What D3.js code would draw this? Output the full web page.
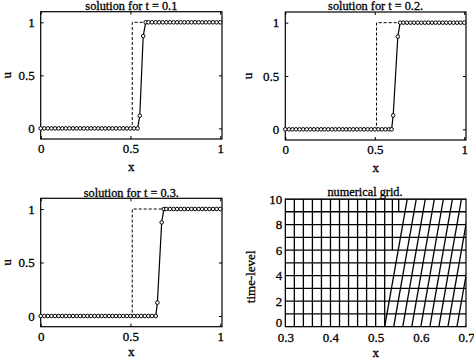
<!DOCTYPE html>
<html><head><meta charset="utf-8">
<script src="https://cdn.jsdelivr.net/npm/d3@7"></script>
<style>
html,body{margin:0;padding:0;background:#fff;}
svg{display:block;font-family:"Liberation Serif","DejaVu Serif",serif;}
text{stroke:#000;stroke-width:0.3px;fill:#000;}
</style></head>
<body><svg id="c" width="474" height="360"></svg>
<script>
// ---------- data ----------
const titles = ["solution for t = 0.1", "solution for t = 0.2.", "solution for t = 0.3.", "numerical grid."];
const uTicks = [0, 0.5, 1];
const xTicks = [0, 0.5, 1];
const initX = [0, 0.51, 0.51, 1];
const initU = [0, 0, 1, 1];

const x1 = [0,0.02,0.04,0.06,0.08,0.1,0.12,0.14,0.16,0.18,0.2,0.22,0.24,0.26,0.28,0.3,0.32,0.34,0.36,0.38,0.4,0.42,0.44,0.46,0.48,0.5,0.52,0.54,0.552,0.571,0.585,0.6,0.62,0.64,0.66,0.68,0.7,0.72,0.74,0.76,0.78,0.8,0.82,0.84,0.86,0.88,0.9,0.92,0.94,0.96,0.98,1.0];
const u1 = [0,0,0,0,0,0,0,0,0,0,0,0,0,0,0,0,0,0,0,0,0,0,0,0,0,0,0,0,0.12,0.87,1,1,1,1,1,1,1,1,1,1,1,1,1,1,1,1,1,1,1,1,1,1];

const x2 = [0,0.02,0.04,0.06,0.08,0.1,0.12,0.14,0.16,0.18,0.2,0.22,0.24,0.26,0.28,0.3,0.32,0.34,0.36,0.38,0.4,0.42,0.44,0.46,0.48,0.5,0.52,0.54,0.56,0.58,0.594,0.603,0.629,0.642,0.66,0.68,0.7,0.72,0.74,0.76,0.78,0.8,0.82,0.84,0.86,0.88,0.9,0.92,0.94,0.96,0.98,1.0];
const u2 = [0,0,0,0,0,0,0,0,0,0,0,0,0,0,0,0,0,0,0,0,0,0,0,0,0,0,0,0,0,0,0,0.13,0.87,1,1,1,1,1,1,1,1,1,1,1,1,1,1,1,1,1,1,1];

const x3 = [0,0.02,0.04,0.06,0.08,0.1,0.12,0.14,0.16,0.18,0.2,0.22,0.24,0.26,0.28,0.3,0.32,0.34,0.36,0.38,0.4,0.42,0.44,0.46,0.48,0.5,0.52,0.54,0.56,0.58,0.6,0.62,0.641,0.65,0.674,0.686,0.7,0.72,0.74,0.76,0.78,0.8,0.82,0.84,0.86,0.88,0.9,0.92,0.94,0.96,0.98,1.0];
const u3 = [0,0,0,0,0,0,0,0,0,0,0,0,0,0,0,0,0,0,0,0,0,0,0,0,0,0,0,0,0,0,0,0,0,0.125,0.875,1,1,1,1,1,1,1,1,1,1,1,1,1,1,1,1,1];

// grid panel
const gridXTicks = [0.3, 0.4, 0.5, 0.6, 0.7];
const levelTicks = [0, 2, 4, 6, 8, 10];
const levels = [0,1,2,3,4,5,6,7,8,9,10];
const fixedX = [0.30,0.32,0.34,0.36,0.38,0.40,0.42,0.44,0.46,0.48,0.50,0.52];
const insertedX = [0.537, 0.551];
const insertedFrom = [6, 9];
const movingX0 = [0.52,0.54,0.56,0.58,0.60,0.62,0.64,0.66,0.68,0.70];
const shiftPerLevel = 0.005;

// ---------- drawing ----------
const svg = d3.select("#c");
const panels = [
  {l:40.7, r:222, t:11.7, b:139, xs:x1, us:u1, title:titles[0], ty:9.5, xl:171, ul:7},
  {l:285.3, r:466, t:12, b:140, xs:x2, us:u2, title:titles[1], ty:9.5, xl:172, ul:248},
  {l:40.7, r:222, t:198.3, b:326.7, xs:x3, us:u3, title:titles[2], ty:196.5, xl:356, ul:7}
];

function frame(g, p) {
  g.append("rect").attr("x", p.l).attr("y", p.t).attr("width", p.r - p.l).attr("height", p.b - p.t)
    .attr("fill", "none").attr("stroke", "#000").attr("stroke-width", 1.2);
}
function styleText(a) {
  a.select(".domain").remove();
  a.selectAll("text").attr("font-size", 13).attr("fill", "#000").attr("font-family", "Liberation Serif");
}

panels.forEach((p, i) => {
  const g = svg.append("g");
  const x = d3.scaleLinear().domain([0, 1.01]).range([p.l, p.r]);
  const y = d3.scaleLinear().domain([-0.1, 1.1]).range([p.b, p.t]);
  frame(g, p);
  g.append("g").attr("transform", `translate(0,${p.b})`)
    .call(d3.axisBottom(x).tickValues(xTicks).tickSize(-3).tickPadding(5).tickFormat(d3.format("")))
    .call(styleText);
  g.append("g").attr("transform", `translate(0,${p.t})`)
    .call(d3.axisTop(x).tickValues(xTicks).tickSize(-3).tickFormat(""))
    .call(a => a.select(".domain").remove());
  g.append("g").attr("transform", `translate(${p.l},0)`)
    .call(d3.axisLeft(y).tickValues(uTicks).tickSize(-3).tickPadding(6).tickFormat(d3.format("")))
    .call(styleText);
  g.append("g").attr("transform", `translate(${p.r},0)`)
    .call(d3.axisRight(y).tickValues(uTicks).tickSize(-3).tickFormat(""))
    .call(a => a.select(".domain").remove());

  const line = d3.line().x(d => x(d[0])).y(d => y(d[1]));
  g.append("path").attr("d", line(initX.map((v, k) => [v, initU[k]])))
    .attr("fill", "none").attr("stroke", "#000").attr("stroke-width", 1).attr("stroke-dasharray", "3,2");
  const pts = p.xs.map((v, k) => [v, p.us[k]]);
  g.append("path").attr("d", line(pts)).attr("fill", "none").attr("stroke", "#000").attr("stroke-width", 1.2);
  g.selectAll("circle").data(pts).join("circle")
    .attr("cx", d => x(d[0])).attr("cy", d => y(d[1])).attr("r", 1.8)
    .attr("fill", "#fff").attr("stroke", "#000").attr("stroke-width", 1);

  g.append("text").attr("x", (p.l + p.r) / 2).attr("y", p.ty).attr("text-anchor", "middle")
    .attr("font-size", 12.3).text(p.title);
  g.append("text").attr("x", (p.l + p.r) / 2).attr("y", p.xl).attr("text-anchor", "middle")
    .attr("font-size", 13).text("x");
  g.append("text").attr("transform", `translate(${p.ul},${(p.t + p.b) / 2}) rotate(-90)`)
    .attr("text-anchor", "middle").attr("dy", "0.3em").attr("font-size", 13).text("u");
});

// grid panel
{
  const p = {l:285.3, r:466, t:199, b:326.7};
  const g = svg.append("g");
  const x = d3.scaleLinear().domain([0.3, 0.7]).range([p.l, p.r]);
  const y = d3.scaleLinear().domain([0, 10]).range([p.b, p.t]);
  g.append("clipPath").attr("id", "gclip").append("rect")
    .attr("x", p.l).attr("y", p.t).attr("width", p.r - p.l).attr("height", p.b - p.t);
  const gg = g.append("g").attr("clip-path", "url(#gclip)");
  gg.selectAll("line.h").data(levels).join("line").attr("class", "h")
    .attr("x1", x(0.3)).attr("x2", x(0.7)).attr("y1", d => y(d)).attr("y2", d => y(d))
    .attr("stroke", "#000").attr("stroke-width", 1.3);
  gg.selectAll("line.f").data(fixedX).join("line").attr("class", "f")
    .attr("x1", d => x(d)).attr("x2", d => x(d)).attr("y1", y(0)).attr("y2", y(10))
    .attr("stroke", "#000").attr("stroke-width", 1.3);
  gg.selectAll("line.i").data(insertedX.map((v, k) => [v, insertedFrom[k]])).join("line").attr("class", "i")
    .attr("x1", d => x(d[0])).attr("x2", d => x(d[0])).attr("y1", d => y(d[1])).attr("y2", y(10))
    .attr("stroke", "#000").attr("stroke-width", 1.3);
  gg.selectAll("line.m").data(movingX0).join("line").attr("class", "m")
    .attr("x1", d => x(d)).attr("x2", d => x(d + shiftPerLevel * 10)).attr("y1", y(0)).attr("y2", y(10))
    .attr("stroke", "#000").attr("stroke-width", 1.3);
  frame(g, p);
  g.append("g").attr("transform", `translate(0,${p.b})`)
    .call(d3.axisBottom(x).tickValues(gridXTicks).tickSize(0).tickPadding(6).tickFormat(d3.format(".1f")))
    .call(styleText);
  g.append("g").attr("transform", `translate(${p.l},0)`)
    .call(d3.axisLeft(y).tickValues(levelTicks).tickSize(0).tickPadding(3).tickFormat(d3.format("")))
    .call(a => { styleText(a); a.selectAll(".tick").filter(d => d === 0).select("text").attr("dy", "-0.05em"); });
  g.append("text").attr("x", 365).attr("y", 196).attr("text-anchor", "middle").attr("font-size", 12.3).text(titles[3]);
  g.append("text").attr("x", (p.l + p.r) / 2).attr("y", 357).attr("text-anchor", "middle").attr("font-size", 13).text("x");
  g.append("text").attr("transform", `translate(250,${(p.t + p.b) / 2 + 14}) rotate(-90)`)
    .attr("text-anchor", "middle").attr("dy", "0.35em").attr("font-size", 13).text("time-level");
}
</script></body></html>
